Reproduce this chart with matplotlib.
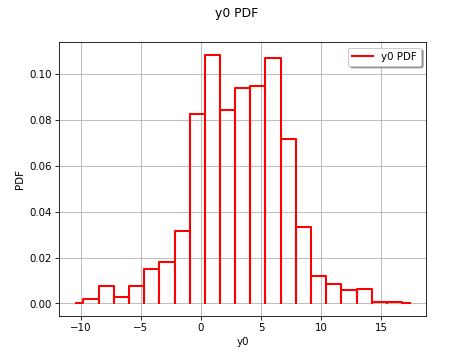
import matplotlib
matplotlib.use("Agg")
import matplotlib.pyplot as plt
import numpy as np

# histogram bin edges and PDF heights of y0
edges = [-9.77, -8.51, -7.25, -5.99, -4.73, -3.47, -2.20, -0.94, 0.32, 1.58, 2.84,
         4.10, 5.36, 6.62, 7.88, 9.14, 10.41, 11.67, 12.93, 14.19, 15.45, 16.71]
heights = [0.0019, 0.0077, 0.0029, 0.0077, 0.0151, 0.0181, 0.0315, 0.0827, 0.1083,
           0.0842, 0.0938, 0.0948, 0.1068, 0.0717, 0.0333, 0.0121, 0.0087, 0.0058,
           0.0065, 0.0007, 0.0007]

# build the staircase outline (each bin drawn down to zero)
half = (edges[1] - edges[0]) / 2
xs = [edges[0] - half, edges[0]]
ys = [0.0, 0.0]
for i, h in enumerate(heights):
    xs += [edges[i], edges[i], edges[i + 1], edges[i + 1]]
    ys += [0.0, h, h, 0.0]
xs.append(edges[-1] + half)
ys.append(0.0)

fig = plt.figure(figsize=(6.4, 4.8), dpi=74)
ax = fig.add_subplot(111)
ax.plot(np.array(xs), np.array(ys), color="red", linewidth=2, label="y0 PDF")
ax.grid(True)
ax.set_xlabel("y0")
ax.set_ylabel("PDF")
ax.legend(loc="upper right", shadow=True)
fig.suptitle("y0 PDF")

plt.savefig("out.png", dpi=74)
